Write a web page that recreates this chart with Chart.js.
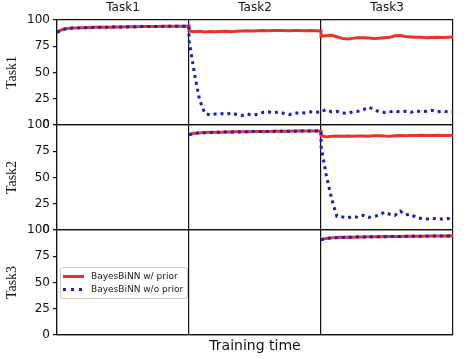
<!DOCTYPE html>
<html>
<head>
<meta charset="utf-8">
<script src="https://cdn.jsdelivr.net/npm/chart.js@4/dist/chart.umd.min.js"></script>
<style>
  html, body { margin: 0; padding: 0; background: #fff; }
  #wrap { position: relative; width: 474px; height: 359px; }
  #legend {
    position: absolute; left: 60px; top: 267px; width: 126px; height: 30px;
    border: 1px solid #ccc; border-radius: 3px; background: rgba(255,255,255,0.85);
    font-family: "DejaVu Sans", sans-serif; font-size: 9px; color: #222; white-space: nowrap;
  }
  .row { position: absolute; left: 2px; height: 12px; display: flex; align-items: center; white-space: nowrap; }
  .sw { width: 21px; height: 3px; margin-right: 7px; flex: none; }
  .red { background: #e8322a; }
  .blue { background: repeating-linear-gradient(to right, #1a1ad2 0 3px, transparent 3px 8px); }
</style>
</head>
<body>
<div id="wrap">
  <canvas id="c" width="474" height="359"></canvas>
  <div id="legend">
    <div class="row" style="top:2px"><div class="sw red"></div><span>BayesBiNN w/ prior</span></div>
    <div class="row" style="top:15px"><div class="sw blue"></div><span>BayesBiNN w/o prior</span></div>
  </div>
</div>
<script>
// Column (training phase) titles and row (evaluated task) titles
const taskLabels = ['Task1', 'Task2', 'Task3'];
const seriesNames = ['BayesBiNN w/ prior', 'BayesBiNN w/o prior'];
const xStep = 4; // training-time units between samples (100 units per task phase)

// Task1 accuracy
const r1c1 = [88.5, 91, 92, 92.3, 92.5, 92.6, 92.8, 93, 93, 93.1, 93.2, 93.3, 93.4, 93.5, 93.5, 93.6, 93.7, 93.8, 93.8, 93.9, 94, 94, 94, 94.1, 94.1, 94.2];
const b1c1 = [88.3, 90.8, 91.9, 92.3, 92.5, 92.6, 92.8, 92.9, 93, 93.1, 93.2, 93.3, 93.4, 93.4, 93.5, 93.6, 93.7, 93.7, 93.8, 93.9, 93.9, 94, 94, 94, 94.1, 94.1];
const r1c2 = [89.5, 88.8, 89.2, 88.6, 89.0, 88.7, 89.1, 89.3, 88.9, 89.4, 89.6, 89.8, 89.5, 89.7, 90.0, 89.8, 89.9, 90.1, 89.9, 89.8, 90.0, 89.9, 89.7, 90.0, 89.8, 89.6];
const b1c2 = [81, 50, 24, 11, 9.5, 10.5, 11, 10, 11.5, 10, 9, 10.5, 9.5, 10, 12, 12.5, 11.5, 12.5, 11, 10, 11, 12, 11.5, 12.5, 12, 12.5];
const r1c3 = [84.5, 85, 85.5, 84, 82.5, 82, 82.5, 83, 83.2, 82.8, 82.5, 82.6, 83, 83.5, 85, 85.3, 84.2, 83.8, 83.5, 83.6, 83.2, 83.4, 83.6, 83.3, 83.5, 83.7];
const b1c3 = [13, 14.5, 12.5, 13, 11.5, 11, 12.5, 13, 14.5, 17, 15, 12.5, 12, 12.5, 13, 12.5, 13, 12, 13.5, 12.5, 13, 14, 12.5, 13, 12.5, 12.5];
// Task2 accuracy
const r2c2 = [91, 92.2, 92.5, 92.8, 93, 93, 93.2, 93.3, 93.4, 93.5, 93.5, 93.6, 93.7, 93.8, 93.8, 93.9, 94, 94, 94, 94.1, 94.2, 94.2, 94.3, 94.3, 94.4, 94.4];
const b2c2 = [90.8, 92, 92.4, 92.7, 92.9, 93, 93.1, 93.3, 93.4, 93.4, 93.5, 93.6, 93.7, 93.7, 93.8, 93.9, 93.9, 94, 94, 94.1, 94.1, 94.2, 94.2, 94.3, 94.3, 94.4];
const r2c3 = [90, 88.7, 89.3, 89.6, 89.4, 89.5, 89.2, 89.6, 89.5, 89.3, 89.7, 89.8, 89.5, 89.4, 89.7, 90, 89.8, 89.9, 90, 90.2, 90, 90.1, 90.2, 90, 90.1, 90.2];
const b2c3 = [80, 52, 30, 13, 12.5, 11.5, 13, 12, 14, 12, 13, 14, 17, 15, 14, 18, 14.5, 15, 12, 11, 10.5, 11, 10.5, 10.5, 11, 10.5];
// Task3 accuracy
const r3c3 = [91, 92, 92.5, 92.8, 93, 93, 93.2, 93.3, 93.4, 93.5, 93.5, 93.6, 93.7, 93.8, 93.8, 93.9, 94, 94, 94, 94.1, 94.2, 94.2, 94.3, 94.3, 94.4, 94.5];
const b3c3 = [90.8, 91.9, 92.4, 92.7, 92.9, 93, 93.1, 93.3, 93.4, 93.4, 93.5, 93.6, 93.6, 93.7, 93.8, 93.8, 93.9, 94, 94, 94, 94.1, 94.2, 94.2, 94.3, 94.3, 94.4];

const RED = '#e8322a';
const BLUE = '#1a1ad2';

// segments: [phaseIndex, values]
function toPoints(segments) {
  const pts = [];
  segments.forEach(([phase, vals]) => {
    vals.forEach((v, i) => pts.push({ x: phase * 100 + i * xStep, y: v }));
  });
  return pts;
}
function redSet(axis, segs) {
  return { label: seriesNames[0], yAxisID: axis, data: toPoints(segs), borderColor: RED,
           borderWidth: 3, pointRadius: 0, tension: 0, order: 2, fill: false };
}
function blueSet(axis, segs) {
  return { label: seriesNames[1], yAxisID: axis, data: toPoints(segs), borderColor: BLUE,
           borderWidth: 3, borderDash: [3, 4], pointRadius: 0, tension: 0, order: 1, fill: false };
}

const datasets = [
  redSet('y1', [[0, r1c1], [1, r1c2], [2, r1c3]]),
  blueSet('y1', [[0, b1c1], [1, b1c2], [2, b1c3]]),
  redSet('y2', [[1, r2c2], [2, r2c3]]),
  blueSet('y2', [[1, b2c2], [2, b2c3]]),
  redSet('y3', [[2, r3c3]]),
  blueSet('y3', [[2, b3c3]]),
];

const tickFont = { family: 'DejaVu Sans', size: 12 };
function rowAxis(title) {
  return {
    type: 'linear', position: 'left', stack: 'rows', stackWeight: 1,
    min: 0, max: 100,
    ticks: { stepSize: 25, color: '#111', font: tickFont, padding: 3, autoSkip: false },
    grid: {
      color: (ctx) => (ctx.tick && (ctx.tick.value === 0 || ctx.tick.value === 100)) ? '#111' : 'rgba(0,0,0,0)',
      tickColor: '#111', tickLength: 4, lineWidth: 1.2, drawTicks: true
    },
    border: { display: true, color: '#111', width: 1.2 },
    title: { display: true, text: title, color: '#111',
             font: { family: 'Liberation Serif', size: 14 }, padding: { top: 4, bottom: 0 } },
    afterFit: (s) => { s.width = 57; }
  };
}

// stacked axes are placed bottom-up in definition order, so the last row is defined first
const scales = {
  x: {
    type: 'linear', position: 'bottom', min: 0, max: 300,
    ticks: { display: false, stepSize: 100 },
    grid: {
      color: (ctx) => (ctx.tick && ctx.tick.value % 100 === 0) ? '#111' : 'rgba(0,0,0,0)',
      lineWidth: 1.2, drawTicks: false
    },
    border: { display: true, color: '#111', width: 1.2 },
    title: { display: true, text: 'Training time', color: '#111',
             font: { family: 'DejaVu Sans', size: 14 }, padding: { top: 0, bottom: 4 } },
    afterFit: (s) => { s.height = 24; }
  },
  xTop: {
    type: 'category', position: 'top', labels: taskLabels, offset: true,
    ticks: { color: '#111', font: tickFont, padding: 5 },
    grid: { display: false, drawTicks: false },
    border: { display: false },
    afterFit: (s) => { s.height = 20; }
  },
  y3: rowAxis(taskLabels[2]),
  y2: rowAxis(taskLabels[1]),
  y1: rowAxis(taskLabels[0])
};

new Chart(document.getElementById('c'), {
  type: 'line',
  data: { datasets },
  options: {
    responsive: false, animation: false,
    layout: { padding: { left: 0, right: 21, top: 0, bottom: 0 } },
    plugins: { legend: { display: false }, tooltip: { enabled: false } },
    scales
  }
});
</script>
</body>
</html>
